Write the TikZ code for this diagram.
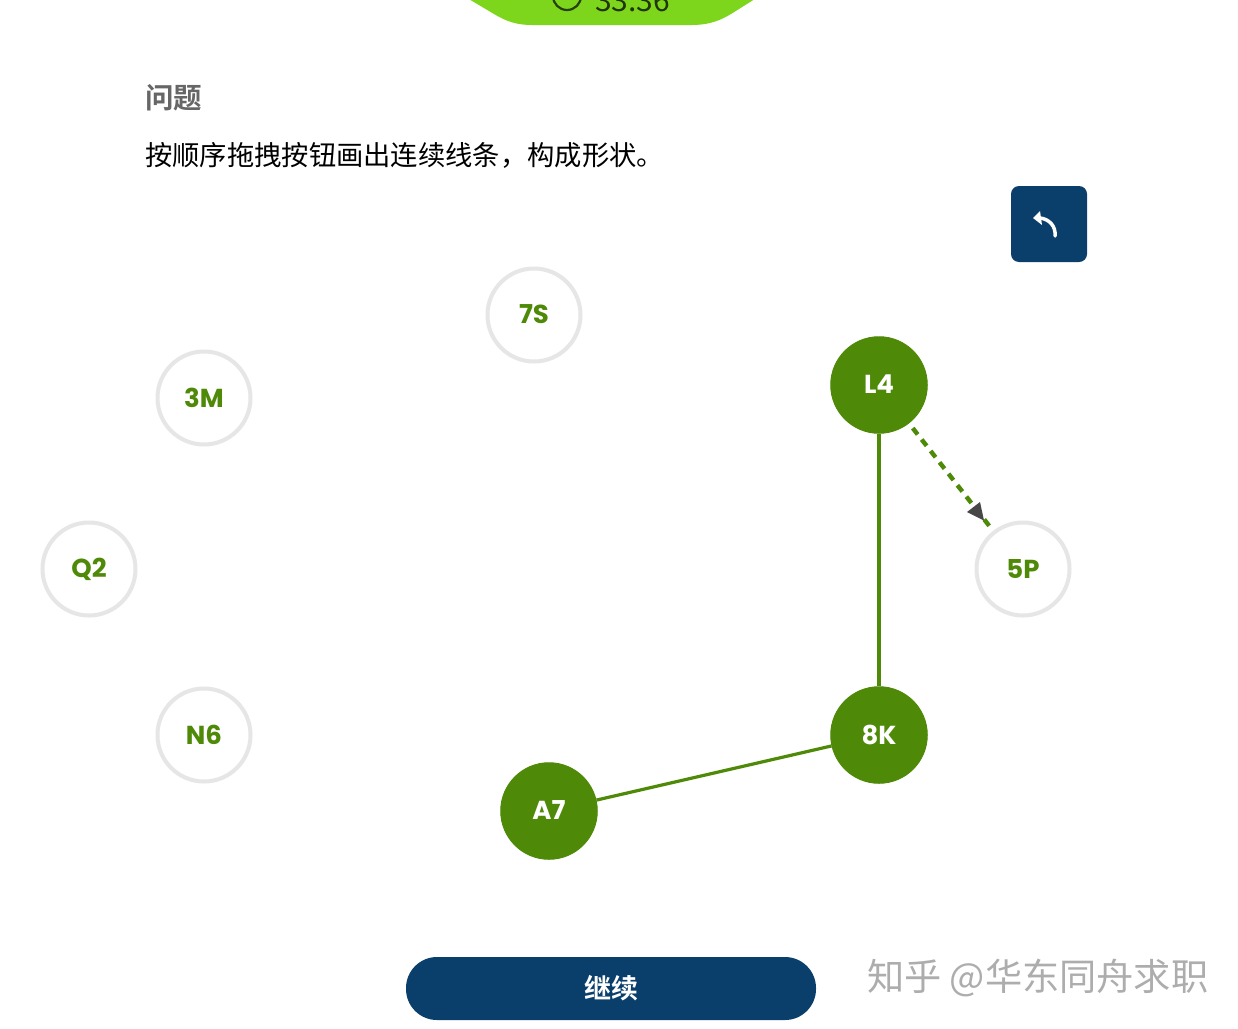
\documentclass[tikz,border=0pt]{standalone}
\usepackage{fontspec}
\setmainfont{Noto Sans CJK SC}
\newfontfamily\cjkb{Noto Sans CJK SC Bold}
\newfontfamily\labelfont[BoldFont=*]{Poppins Bold}
\usetikzlibrary{arrows.meta}
\definecolor{leaf}{HTML}{4E8A08}
\definecolor{ringc}{HTML}{E6E6E6}
\definecolor{navy}{HTML}{0A3F6C}
\definecolor{lime}{HTML}{7ED61C}
\newcommand{\lab}[1]{\raisebox{1pt}{#1}}
\tikzset{
  x=1pt,y=-1pt,
  open/.style={circle,draw=ringc,line width=4pt,fill=white,minimum size=93pt,inner sep=0pt,text=leaf,font=\fontsize{26}{26}\selectfont\labelfont},
  done/.style={circle,draw=leaf,fill=leaf,line width=1pt,minimum size=96.5pt,inner sep=0pt,text=white,font=\fontsize{26}{26}\selectfont\labelfont},
  link/.style={draw=leaf,line width=3.2pt},
  guide/.style={draw=leaf,line width=4.4pt,dash pattern=on 8pt off 6.5pt,dash phase=-6pt},
  tip/.style={fill=black!72!white,draw=none},
}
\begin{document}
\begin{tikzpicture}
\useasboundingbox (0,0) rectangle (1238,1028);
\fill[white] (0,0) rectangle (1238,1028);
% timer badge
\begin{scope}
\clip (0,0) rectangle (1238,1028);
\fill[lime] (457,-8) -- (494,14) .. controls (507,22) and (518,25) .. (532,25) -- (692,25) .. controls (706,25) and (718,22) .. (731,14) -- (766,-8) -- cycle;
\draw[black!70!lime,line width=2.2pt] (567,-4) circle (14);
\node[anchor=base west,inner sep=0pt,text=black!75!lime,font=\fontsize{30}{30}\selectfont] (timer) at (595,11) {33:36};
\end{scope}
% heading
\node[anchor=west,inner sep=0pt,text=black!60,font=\fontsize{28.5}{28}\selectfont\cjkb] (head) at (145,98) {问题};
\node[anchor=west,inner sep=0pt,font=\fontsize{27.3}{27}\selectfont] (prompt) at (145,155) {按顺序拖拽按钮画出连续线条，构成形状。};
% undo button
\node[fill=navy,rounded corners=8pt,minimum size=76pt,inner sep=0pt] (undo) at (1049,224) {};
\draw[white,line width=3.5pt,line cap=round] (1055,236) .. controls (1056,226) and (1049,219) .. (1040,218);
\fill[white] (1033,218) -- (1040,211) -- (1042,225) -- cycle;
% nodes
\node[open] (s7) at (534,315) {\lab{7S}};
\node[open] (m3) at (204,398) {\lab{3M}};
\node[open] (q2) at (89,569) {\lab{Q2}};
\node[open] (n6) at (204,735) {\lab{N6}};
\node[open] (p5) at (1023,569) {\lab{5P}};
\node[done] (l4) at (879,385) {\lab{L4}};
\node[done] (k8) at (879,735) {\lab{8K}};
\node[done] (a7) at (549,811) {\lab{A7}};
% links
\draw[link] (l4) -- (k8);
\draw[link] (k8) -- (a7);
\draw[guide] (l4) -- (p5);
\fill[tip] (984,520.5) -- (967,512) -- (980,502) -- cycle;
% continue button
\node[fill=navy,rounded corners=31pt,minimum width=410pt,minimum height=63pt,inner sep=0pt,text=white,font=\fontsize{27}{27}\selectfont\cjkb] (go) at (611,988.5) {\raisebox{1.5pt}{继续}};
% watermark
\node[anchor=west,inner sep=0pt,text=black!32,font=\fontsize{37.2}{37}\selectfont] (mark) at (867,978) {知乎 @华东同舟求职};
\end{tikzpicture}
\end{document}
